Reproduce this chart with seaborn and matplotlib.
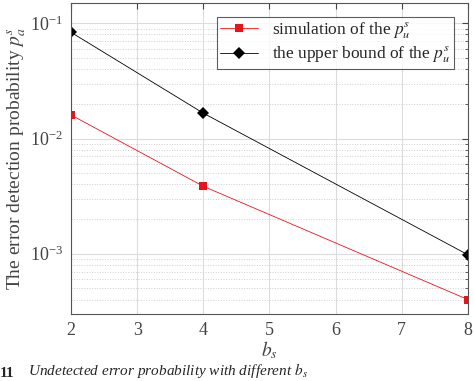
import numpy as np
import pandas as pd
import seaborn as sns
import matplotlib.pyplot as plt

# values
bs = [2, 4, 8]
sim_pu = [0.0160, 0.00385, 0.00040]
bound_pu = [0.0835, 0.0166, 0.00098]
x_ticks = [2, 3, 4, 5, 6, 7, 8]

sns.set_style("white")
plt.rcParams['font.family'] = ['Liberation Serif', 'DejaVu Serif']
plt.rcParams['mathtext.fontset'] = 'stix'

df = pd.DataFrame({'bs': bs, 'sim': sim_pu, 'bound': bound_pu})

fig = plt.figure(figsize=(4.74, 3.81), dpi=100)
ax = fig.add_axes([0.150, 0.176, 0.837, 0.816])

sns.lineplot(data=df, x='bs', y='sim', ax=ax, color='#e8141c', lw=0.6,
             marker='s', markersize=6, markeredgewidth=0,
             label=r'simulation of the $p_u^s$')
sns.lineplot(data=df, x='bs', y='bound', ax=ax, color='black', lw=0.6,
             marker='D', markersize=6, markeredgewidth=0,
             label=r'the upper bound of the $p_u^s$')

ax.set_yscale('log')
ax.set_xlim(2, 8)
ax.set_ylim(3.0e-4, 0.15)
ax.set_xticks(x_ticks)

ax.grid(True, which='major', color='#dcdcdc', lw=0.8, ls='-')
ax.grid(True, which='minor', axis='y', color='#cfcfcf', lw=0.7, ls=':')
ax.tick_params(which='both', direction='in', top=True, right=True,
               labelsize=13, colors='#444444', length=4, pad=6)
ax.tick_params(which='minor', length=2)
for s in ax.spines.values():
    s.set_color('#555555')
    s.set_linewidth(0.8)

ax.set_xlabel(r'$b_s$', fontsize=14, color='#444444', labelpad=0)
ax.set_ylabel(r'The error detection probability $p_a^s$', fontsize=14,
              color='#444444', labelpad=1)

leg = ax.legend(loc='upper right', fontsize=12.5, frameon=True, fancybox=False,
                edgecolor='#333333', borderpad=0.2, handlelength=2.2,
                labelspacing=0.2, borderaxespad=0.8)
leg.get_frame().set_linewidth(0.8)

fig.text(0.0, 0.003, '11', fontsize=11, fontweight='bold', va='bottom')
fig.text(0.06, 0.003, r'Undetected error probability with different $b_s$',
         fontsize=11, style='italic', va='bottom')

fig.savefig('out.png', dpi=100)
